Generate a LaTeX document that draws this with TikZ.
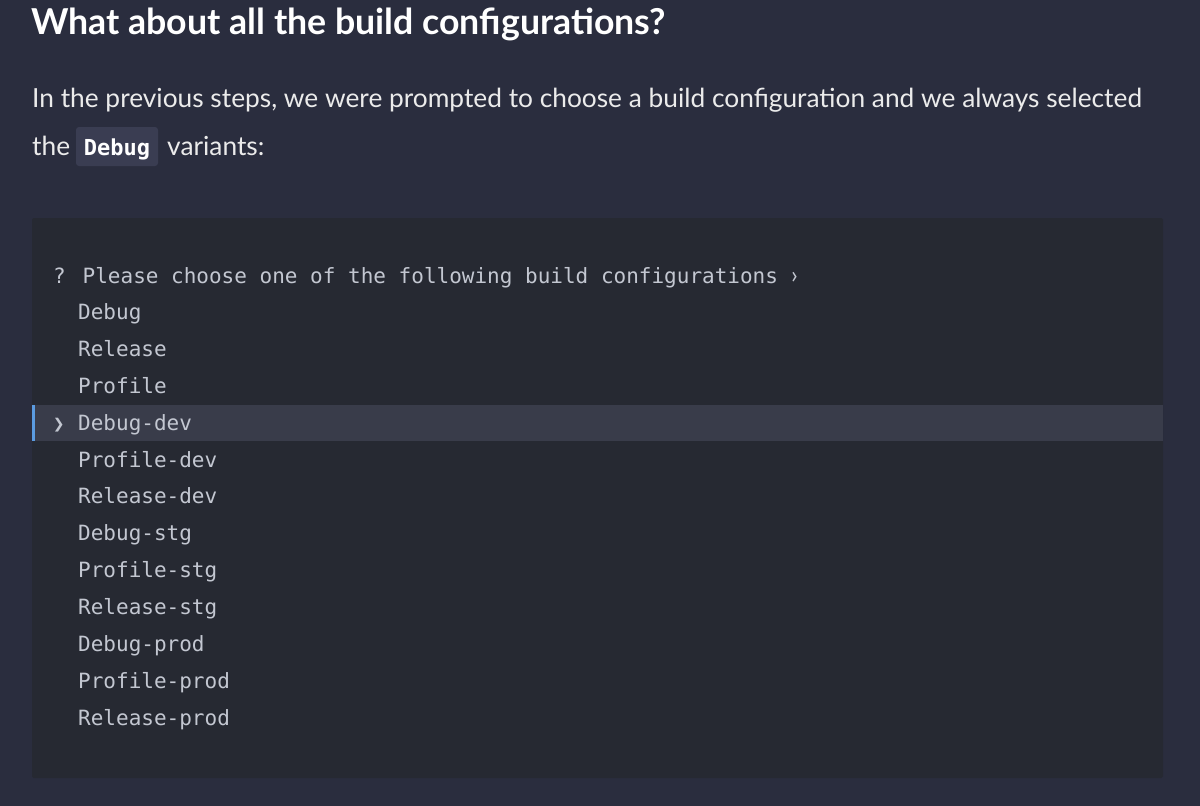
\documentclass[tikz,border=0pt]{standalone}
\usepackage{fontspec}
\setmainfont{Lato}
\newfontfamily\monof{DejaVu Sans Mono}
\definecolor{bg}{HTML}{2A2D3E}
\definecolor{codebg}{HTML}{262932}
\definecolor{hl}{HTML}{393C4A}
\definecolor{codefg}{HTML}{C3C7D1}
\definecolor{inl}{HTML}{3A3D52}
\definecolor{bar}{HTML}{5B9BE0}
\begin{document}
\begin{tikzpicture}[x=1pt,y=-1pt,
  item/.style={anchor=base west,inner sep=0pt,text=codefg,font=\monof\fontsize{21}{24}\selectfont},
  body/.style={anchor=base west,inner sep=0pt,text=white!92!black,font=\fontsize{26.3}{30}\selectfont}]
\fill[bg] (0,0) rectangle (1200,806);
\useasboundingbox (0,0) rectangle (1200,806);
\node[anchor=base west,inner sep=0pt,text=white,font=\bfseries\fontsize{35.7}{40}\selectfont] (title) at (31,34) {What about all the build configurations?};
\node[body] (l1) at (32,107) {In the previous steps, we were prompted to choose a build configuration and we always selected};
\fill[inl,rounded corners=3pt] (76,127) rectangle (158,166);
\node[body] (l2a) at (32,155) {the};
\node[anchor=base,inner sep=0pt,text=white,font=\monof\bfseries\fontsize{22}{26}\selectfont] (dbg) at (117,155) {Debug};
\node[body] (l2b) at (167,155) {variants:};
\fill[codebg,rounded corners=2pt] (32,218) rectangle (1163,778);
\fill[hl] (32,405) rectangle (1163,441);
\fill[bar] (32,405) rectangle (35,441);
\node[item] (q) at (53,283) {? Please choose one of the following build configurations};
\node[item,font=\fontsize{24}{24}\selectfont] (chev) at (791,283) {›};
\node[item,font=\monof\bfseries\fontsize{19}{24}\selectfont] (sel) at (53,430) {❯};
\foreach \t [count=\i] in {Debug,Release,Profile,Debug-dev,Profile-dev,Release-dev,Debug-stg,Profile-stg,Release-stg,Debug-prod,Profile-prod,Release-prod}
  \node[item] (i\i) at (78,282.5+36.9*\i) {\t};
\end{tikzpicture}
\end{document}
